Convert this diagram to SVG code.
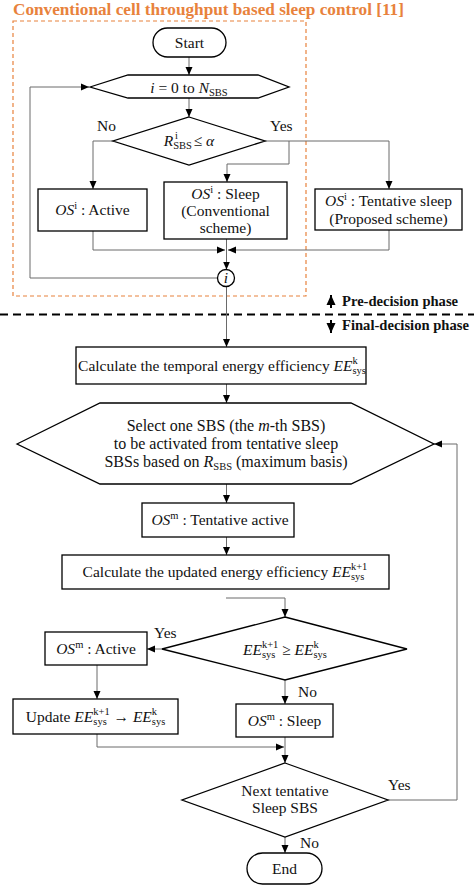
<svg xmlns="http://www.w3.org/2000/svg" width="474" height="887" viewBox="0 0 474 887">
<defs>
<marker id="ah" markerUnits="userSpaceOnUse" markerWidth="8" markerHeight="8" viewBox="0 0 8 8" refX="8" refY="4" orient="auto">
<path d="M0,0.5 L8,4 L0,7.5 Z" fill="#000"/>
</marker>
<marker id="bah" markerUnits="userSpaceOnUse" markerWidth="10" markerHeight="10" viewBox="0 0 10 10" refX="10" refY="5" orient="auto">
<path d="M0,0.5 L10,5 L0,9.5 Z" fill="#000"/>
</marker>
</defs>
<style>
.t{font-family:"Liberation Serif","Times New Roman",serif;font-size:15.5px;fill:#111}
.L{font-size:16px}
.m{font-style:italic}
.s{font-size:10.5px;font-style:normal}
.box{fill:#fff;stroke:#000;stroke-width:1.3}
.ca{fill:none;stroke:#6a6a6a;stroke-width:1;marker-end:url(#ah)}
.ttl{font-family:"Liberation Serif","Times New Roman",serif;font-weight:bold;font-size:17.2px;fill:#E8823C}
.ph{font-family:"Liberation Serif","Times New Roman",serif;font-weight:bold;font-size:14.6px;fill:#111}
</style>
<rect width="474" height="887" fill="#fff"/>
<text class="ttl" x="13" y="15">Conventional cell throughput based sleep control [11]</text>
<rect x="13" y="21" width="293" height="275" fill="none" stroke="#E8823C" stroke-width="1.2" stroke-dasharray="4,3"/>
<line x1="0" y1="314.5" x2="474" y2="314.5" stroke="#000" stroke-width="2" stroke-dasharray="8,5"/>
<g id="connectors">
<path class="ca" d="M189,57 V75"/>
<path class="ca" d="M189,98 V117"/>
<path class="ca" d="M113,141 H93 V189"/>
<path class="ca" d="M265,141 H389 V189"/>
<path class="ca" d="M289,141 V164 H227 V182"/>
<path class="ca" d="M93,231 V250 H225"/>
<path class="ca" d="M389,230 V250 H228"/>
<path class="ca" d="M226.5,239 V269.5"/>
<path class="ca" d="M217.5,278 H30 V87 H89"/>
<path class="ca" d="M226.5,286.5 V347"/>
<path class="ca" d="M226.5,384 V403"/>
<path class="ca" d="M226.5,484 V503"/>
<path class="ca" d="M226.5,537 V555"/>
<path class="ca" d="M226,598 H285 V617"/>
<path class="ca" d="M162,649 H147"/>
<path class="ca" d="M97,665 V699"/>
<path class="ca" d="M285,680 V704"/>
<path class="ca" d="M97,734 V747 H284"/>
<path class="ca" d="M285,737 V763"/>
<path class="ca" d="M388,800 H457 V444 H434"/>
<path class="ca" d="M285,837 V853"/>
<path fill="none" stroke="#000" stroke-width="2" marker-end="url(#bah)" d="M331,308 V295"/>
<path fill="none" stroke="#000" stroke-width="2" marker-end="url(#bah)" d="M331,320 V333"/>
</g>
<g id="start">
<rect class="box" x="153" y="28" width="73" height="29" rx="14.5"/>
<text class="t" x="189.5" y="47.5" text-anchor="middle">Start</text>
</g>
<g id="loop">
<polygon class="box" points="90,87 128,75 258,75 289,87 258,98 128,98"/>
<text class="t" x="189" y="92.5" text-anchor="middle"><tspan class="m">i</tspan> = 0 to <tspan class="m">N</tspan><tspan class="s" dy="3">SBS</tspan></text>
</g>
<g id="cond1">
<polygon class="box" points="189,117 265,141 189,165 113,141"/>
<text class="t" x="189" y="146" text-anchor="middle"><tspan class="m">R</tspan><tspan class="s" dy="3">SBS</tspan><tspan class="s m" dx="-17" dy="-10">i</tspan><tspan dx="12" dy="7"> ≤ </tspan><tspan class="m">α</tspan></text>
<text class="t" x="97" y="131">No</text>
<text class="t" x="270" y="131">Yes</text>
</g>
<g id="active1">
<rect class="box" x="38" y="189" width="109" height="42"/>
<text class="t" x="92.5" y="215" text-anchor="middle"><tspan class="m">OS</tspan><tspan class="s m" dy="-6">i</tspan><tspan dy="6"> : Active</tspan></text>
</g>
<g id="sleep1">
<rect class="box" x="164" y="182" width="123" height="57"/>
<text class="t" x="225.5" y="199" text-anchor="middle"><tspan class="m">OS</tspan><tspan class="s m" dy="-6">i</tspan><tspan dy="6"> : Sleep</tspan></text>
<text class="t" x="225.5" y="216" text-anchor="middle">(Conventional</text>
<text class="t" x="225.5" y="233" text-anchor="middle">scheme)</text>
</g>
<g id="tsleep">
<rect class="box" x="315" y="189" width="147" height="41"/>
<text class="t" x="388.5" y="206" text-anchor="middle"><tspan class="m">OS</tspan><tspan class="s m" dy="-6">i</tspan><tspan dy="6"> : Tentative sleep</tspan></text>
<text class="t" x="388.5" y="224" text-anchor="middle">(Proposed scheme)</text>
</g>
<g id="inc">
<circle class="box" cx="226" cy="278" r="8.5"/>
<text class="t m" x="226" y="282.5" text-anchor="middle" font-size="13">i</text>
</g>
<g id="phases">
<text class="ph" x="342" y="306">Pre-decision phase</text>
<text class="ph" x="342" y="330">Final-decision phase</text>
</g>
<g id="calc1">
<rect class="box" x="76" y="347" width="290" height="37"/>
<text class="t" x="222" y="371" text-anchor="middle">Calculate the temporal energy efficiency <tspan class="m">EE</tspan><tspan class="s" dy="3">sys</tspan><tspan class="s m" dx="-13.5" dy="-10">k</tspan></text>
</g>
<g id="select">
<polygon class="box" points="17,444 100,403 351,403 434,444 351,484 100,484"/>
<text class="t L" x="226" y="431" text-anchor="middle">Select one SBS (the <tspan class="m">m</tspan>-th SBS)</text>
<text class="t L" x="226" y="449" text-anchor="middle">to be activated from tentative sleep</text>
<text class="t L" x="226" y="467" text-anchor="middle">SBSs based on <tspan class="m">R</tspan><tspan class="s" dy="3">SBS</tspan><tspan dy="-3"> (maximum basis)</tspan></text>
</g>
<g id="tactive">
<rect class="box" x="142" y="503" width="152" height="34"/>
<text class="t" x="220" y="525" text-anchor="middle"><tspan class="m">OS</tspan><tspan class="s m" dy="-6">m</tspan><tspan dy="6"> : Tentative active</tspan></text>
</g>
<g id="calc2">
<rect class="box" x="62" y="555" width="327" height="34"/>
<text class="t" x="225" y="577" text-anchor="middle">Calculate the updated energy efficiency <tspan class="m">EE</tspan><tspan class="s" dy="3">sys</tspan><tspan class="s" dx="-13.5" dy="-10">k+1</tspan></text>
</g>
<g id="cond2">
<polygon class="box" points="285,617 407,649 285,680 162,649"/>
<text class="t" x="285" y="655" text-anchor="middle"><tspan class="m">EE</tspan><tspan class="s" dy="3">sys</tspan><tspan class="s" dx="-13.5" dy="-10">k+1</tspan><tspan dy="7"> ≥ </tspan><tspan class="m">EE</tspan><tspan class="s" dy="3">sys</tspan><tspan class="s m" dx="-13.5" dy="-10">k</tspan></text>
<text class="t" x="154" y="638">Yes</text>
<text class="t" x="298" y="697">No</text>
</g>
<g id="active2">
<rect class="box" x="45" y="632" width="102" height="33"/>
<text class="t" x="96" y="654" text-anchor="middle"><tspan class="m">OS</tspan><tspan class="s m" dy="-6">m</tspan><tspan dy="6"> : Active</tspan></text>
</g>
<g id="update">
<rect class="box" x="13" y="699" width="165" height="35"/>
<text class="t" x="95.5" y="722" text-anchor="middle">Update <tspan class="m">EE</tspan><tspan class="s" dy="3">sys</tspan><tspan class="s" dx="-13.5" dy="-10">k+1</tspan><tspan dy="7"> → </tspan><tspan class="m">EE</tspan><tspan class="s" dy="3">sys</tspan><tspan class="s m" dx="-13.5" dy="-10">k</tspan></text>
</g>
<g id="sleep2">
<rect class="box" x="236" y="704" width="97" height="33"/>
<text class="t" x="284.5" y="726" text-anchor="middle"><tspan class="m">OS</tspan><tspan class="s m" dy="-6">m</tspan><tspan dy="6"> : Sleep</tspan></text>
</g>
<g id="next">
<polygon class="box" points="285,763 388,800 285,837 182,800"/>
<text class="t" x="285" y="796" text-anchor="middle">Next tentative</text>
<text class="t" x="285" y="813" text-anchor="middle">Sleep SBS</text>
<text class="t" x="388" y="790">Yes</text>
<text class="t" x="300" y="848">No</text>
</g>
<g id="end">
<rect class="box" x="247" y="853" width="75" height="31" rx="15.5"/>
<text class="t" x="284.5" y="874" text-anchor="middle">End</text>
</g>
</svg>
